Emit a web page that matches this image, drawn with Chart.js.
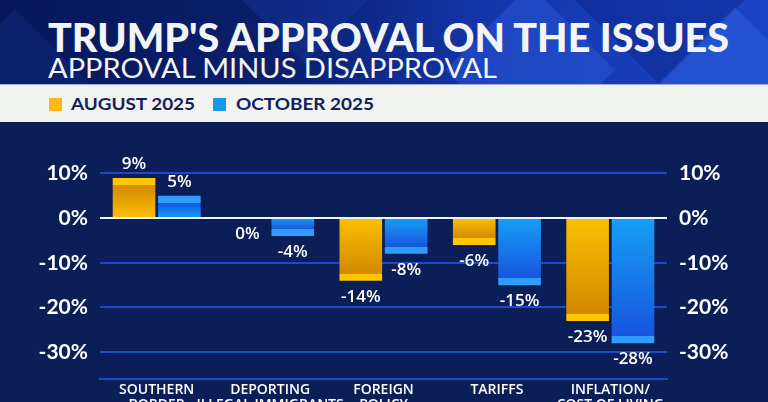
<!DOCTYPE html>
<html>
<head>
<meta charset="utf-8">
<script src="https://cdn.jsdelivr.net/npm/chart.js@4.4.1/dist/chart.umd.min.js"></script>
<style>
  html, body { margin: 0; padding: 0; width: 768px; height: 402px; overflow: hidden; background: #0b1e58; font-family: Lato, "Open Sans", sans-serif; }
  #header { position: absolute; left: 0; top: 0; width: 768px; height: 84px; overflow: hidden;
    background: linear-gradient(90deg, #07175a 0%, #0a1f6c 36%, #1436ab 64%, #1a44c4 100%); }
  .shape { position: absolute; transform: rotate(45deg); }
  .txt { position: absolute; white-space: nowrap; line-height: 1; transform-origin: 0 0; }
  #title { left: 48px; top: 18px; font-size: 39px; font-weight: 900; color: #f3f4f6; }
  #subtitle { left: 48px; top: 55px; font-size: 26px; font-weight: 400; color: #f3f4f6; }
  #legendBand { position: absolute; left: 0; top: 84px; width: 768px; height: 38px; background: #f1f3f1;
    border-top: 1px solid #a7aad4; box-sizing: border-box; }
  .sw { position: absolute; top: 13px; width: 13px; height: 13px; }
  .lg { top: 10px; font-size: 17px; font-weight: bold; color: #13205a; }
  #chartBox { position: absolute; left: 0; top: 122px; width: 768px; height: 295px; }
</style>
</head>
<body>
<div id="header">
  <div class="shape" style="left:-60px; top:40px; width:150px; height:150px; background:rgba(20,45,140,0.35);"></div>
  <div class="shape" style="left:250px; top:-70px; width:110px; height:110px; background:rgba(25,60,170,0.35);"></div>
  <div class="shape" style="left:470px; top:10px; width:120px; height:120px; background:rgba(45,95,225,0.40);"></div>
  <div class="shape" style="left:600px; top:-60px; width:120px; height:120px; background:rgba(10,30,120,0.35);"></div>
  <div class="shape" style="left:680px; top:30px; width:110px; height:110px; background:rgba(60,115,240,0.35);"></div>
  <div id="title" class="txt">TRUMP'S APPROVAL ON THE ISSUES</div>
  <div id="subtitle" class="txt">APPROVAL MINUS DISAPPROVAL</div>
</div>
<div id="legendBand"></div>
<div id="chartBox"><canvas id="chart"></canvas></div>
<script>
const categories = [
  ['SOUTHERN', 'BORDER'],
  ['DEPORTING', 'ILLEGAL IMMIGRANTS'],
  ['FOREIGN', 'POLICY'],
  ['TARIFFS'],
  ['INFLATION/', 'COST OF LIVING']
];
const seriesNames = ['AUGUST 2025', 'OCTOBER 2025'];
const august = [9, 0, -14, -6, -23];
const october = [5, -4, -8, -15, -28];
const tickValues = [10, 0, -10, -20, -30];
const axisMin = -36;
const axisMax = 16;

// base colour, end colour, end cap colour
const yellow = ['#fbc000', '#d38900', '#ffc700'];
const blue = ['#169ff4', '#1655df', '#2f9dfd'];
const legendColors = ['#fdb813', '#1699e8'];

// legend band
const band = document.getElementById('legendBand');
const legendPos = [[49, 70.5, 124], [212.5, 236, 138]];
seriesNames.forEach((name, i) => {
  const sw = document.createElement('div');
  sw.className = 'sw';
  sw.style.left = legendPos[i][0] + 'px';
  sw.style.background = legendColors[i];
  band.appendChild(sw);
  const t = document.createElement('div');
  t.className = 'txt lg';
  t.style.left = legendPos[i][1] + 'px';
  t.textContent = name;
  t.dataset.fit = legendPos[i][2];
  band.appendChild(t);
});
document.getElementById('title').dataset.fit = 681;
document.getElementById('subtitle').dataset.fit = 449;

function fitAll() {
  document.querySelectorAll('[data-fit]').forEach(el => {
    const w = el.getBoundingClientRect().width;
    el.style.transform = 'scaleX(' + (el.dataset.fit / w) + ')';
  });
}

function barFill(cols) {
  return (ctx) => {
    const chart = ctx.chart;
    const y = chart.scales.y;
    if (!chart.chartArea || !y) return cols[0];
    const y0 = y.getPixelForValue(0);
    const y1 = y.getPixelForValue(ctx.raw);
    const len = Math.abs(y1 - y0);
    if (len < 1) return cols[0];
    const g = chart.ctx.createLinearGradient(0, y0, 0, y1);
    const cap = Math.max(0, 1 - 7 / len);
    g.addColorStop(0, cols[0]);
    g.addColorStop(cap, cols[1]);
    g.addColorStop(cap, cols[2]);
    g.addColorStop(1, cols[2]);
    return g;
  };
}

const valueLabels = {
  id: 'valueLabels',
  afterDatasetsDraw(chart) {
    const c = chart.ctx;
    c.save();
    c.font = '600 17px "Open Sans"';
    c.fillStyle = '#ffffff';
    c.textAlign = 'center';
    c.textBaseline = 'middle';
    chart.data.datasets.forEach((ds, i) => {
      chart.getDatasetMeta(i).data.forEach((bar, j) => {
        const v = ds.data[j];
        c.fillText(v + '%', bar.x, v > 0 ? bar.y - 14 : bar.y + 16);
      });
    });
    c.restore();
  }
};

const tickFont = { family: 'Lato', weight: 'bold', size: 21 };
function yAxis(position, width, showGrid) {
  return {
    position: position,
    min: axisMin,
    max: axisMax,
    afterBuildTicks: s => { s.ticks = tickValues.map(v => ({ value: v })); },
    afterFit: s => { s.width = width; },
    grid: {
      display: showGrid,
      drawTicks: false,
      lineWidth: 2,
      color: c => (c.tick && c.tick.value === 0) ? '#f2f3f7' : '#1b4bc8'
    },
    border: { display: false },
    ticks: { color: '#ffffff', font: tickFont, padding: 12, callback: v => v + '%' }
  };
}

function draw() {
  fitAll();
  new Chart(document.getElementById('chart'), {
    type: 'bar',
    data: {
      labels: categories,
      datasets: [
        { label: seriesNames[0], data: august, backgroundColor: barFill(yellow), yAxisID: 'y' },
        { label: seriesNames[1], data: october, backgroundColor: barFill(blue), yAxisID: 'y' }
      ]
    },
    options: {
      responsive: true,
      maintainAspectRatio: false,
      animation: false,
      layout: { padding: { top: 23, left: 0, right: 0, bottom: 0 } },
      datasets: { bar: { barPercentage: 0.94, categoryPercentage: 0.8 } },
      plugins: { legend: { display: false }, tooltip: { enabled: false } },
      scales: {
        x: {
          grid: { display: false, drawTicks: false },
          border: { display: true, color: '#1b4bc8', width: 2 },
          ticks: { color: '#ffffff', padding: 4, maxRotation: 0, autoSkip: false,
            font: { family: 'Open Sans', weight: '600', size: 14, lineHeight: '15px' } }
        },
        y: yAxis('left', 100, true),
        y2: yAxis('right', 101, false)
      }
    },
    plugins: [valueLabels]
  });
}

if (document.fonts && document.fonts.ready) {
  document.fonts.ready.then(draw);
} else {
  draw();
}
</script>
</body>
</html>
